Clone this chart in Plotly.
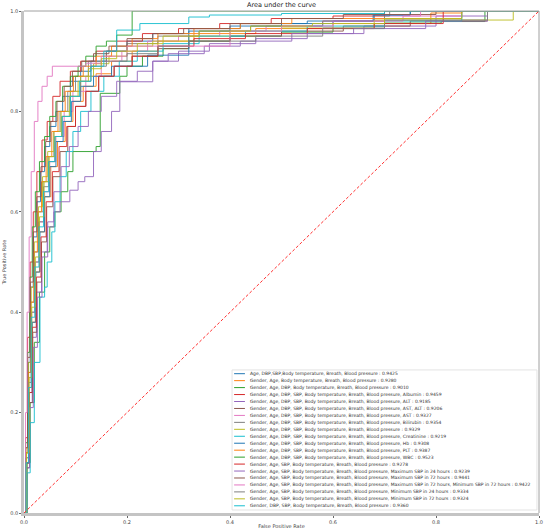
import plotly.graph_objects as go

# ROC curves, one per feature set (fpr / tpr step corners)
feature_sets = [
    "Age, DBP,SBP,Body temperature, Breath, Blood pressure",
    "Gender, Age, Body temperature, Breath, Blood pressure",
    "Gender, Age, DBP, Body temperature, Breath, Blood pressure",
    "Gender, Age, DBP, SBP, Body temperature, Breath, Blood pressure, Albumin",
    "Gender, Age, DBP, SBP, Body temperature, Breath, Blood pressure, ALT",
    "Gender, Age, DBP, SBP, Body temperature, Breath, Blood pressure, AST, ALT",
    "Gender, Age, DBP, SBP, Body temperature, Breath, Blood pressure, AST",
    "Gender, Age, DBP, SBP, Body temperature, Breath, Blood pressure, Bilirubin",
    "Gender, Age, DBP, SBP, Body temperature, Breath, Blood pressure",
    "Gender, Age, DBP, SBP, Body temperature, Breath, Blood pressure, Creatinine",
    "Gender, Age, DBP, SBP, Body temperature, Breath, Blood pressure, Hb",
    "Gender, Age, DBP, SBP, Body temperature, Breath, Blood pressure, PLT",
    "Gender, Age, DBP, SBP, Body temperature, Breath, Blood pressure, WBC",
    "Gender, Age, SBP, Body temperature, Breath, Blood pressure",
    "Gender, Age, SBP, Body temperature, Breath, Blood pressure, Maximum SBP in 24 hours",
    "Gender, Age, SBP, Body temperature, Breath, Blood pressure, Maximum SBP in 72 hours",
    "Gender, Age, SBP, Body temperature, Breath, Blood pressure, Maximum SBP in 72 hours, Minimum SBP in 72 hours",
    "Gender, Age, SBP, Body temperature, Breath, Blood pressure, Minimum SBP in 24 hours",
    "Gender, Age, SBP, Body temperature, Breath, Blood pressure, Minimum SBP in 72 hours",
    "Gender, DBP, SBP, Body temperature, Breath, Blood pressure",
]
auc_values = [0.9425, 0.9280, 0.9010, 0.9459, 0.9185, 0.9206, 0.9327, 0.9354, 0.9329, 0.9219,
              0.9308, 0.9387, 0.9523, 0.9278, 0.9239, 0.9441, 0.9422, 0.9334, 0.9324, 0.9360]

fpr_points = [
    [0, .004, .008, .012, .018, .025, .032, .04, .05, .062, .075, .09, .11, .13, .16, .2, .25, .32, .42, .55, .68, .75, 1],
    [0, .005, .01, .015, .022, .03, .04, .052, .065, .08, .095, .115, .14, .17, .21, .26, .33, .45, .6, .79, .85, 1],
    [0, .006, .012, .02, .03, .04, .05, .06, .072, .085, .095, .14, .148, .186, .2, .23, .27, .32, .4, .5, .6, .7, .81, .895, 1],
    [0, .003, .007, .012, .018, .025, .035, .045, .056, .07, .09, .11, .14, .18, .23, .3, .38, .48, .6, .7, 1],
    [0, .005, .01, .016, .024, .034, .045, .058, .07, .089, .105, .118, .135, .15, .17, .186, .25, .3, .36, .45, .55, .66, .8, .9, 1],
    [0, .005, .011, .017, .025, .034, .044, .056, .07, .085, .1, .12, .145, .175, .21, .26, .32, .4, .5, .62, .75, .9, 1],
    [0, .004, .009, .015, .022, .03, .04, .05, .062, .078, .095, .12, .15, .19, .24, .3, .38, .47, .58, .7, .85, 1],
    [0, .004, .008, .013, .02, .028, .037, .047, .058, .07, .085, .1, .125, .16, .2, .26, .34, .44, .58, .7, .71, 1],
    [0, .004, .009, .014, .02, .028, .036, .046, .058, .072, .09, .11, .135, .165, .2, .25, .32, .4, .5, .68, .95, 1],
    [0, .006, .012, .02, .031, .04, .045, .054, .06, .07, .082, .095, .11, .13, .155, .185, .22, .27, .34, .43, .55, .7, .85, 1],
    [0, .005, .01, .016, .023, .031, .04, .05, .062, .076, .092, .11, .135, .17, .24, .32, .4, .5, .6, .678, .75, 1],
    [0, .004, .008, .013, .019, .026, .034, .043, .054, .066, .08, .096, .115, .14, .17, .21, .26, .33, .42, .52, .79, .85, 1],
    [0, .003, .007, .011, .016, .022, .03, .04, .05, .062, .075, .09, .105, .12, .14, .16, .18, .21, 1],
    [0, .005, .01, .016, .024, .033, .043, .055, .068, .083, .1, .12, .145, .175, .21, .26, .33, .43, .55, .68, .814, 1],
    [0, .005, .011, .018, .026, .035, .046, .058, .072, .088, .105, .125, .15, .18, .22, .25, .28, .35, .42, .52, .64, .78, .9, 1],
    [0, .003, .007, .012, .018, .025, .033, .042, .052, .064, .078, .094, .112, .135, .165, .2, .25, .31, .4, .5, .62, .8, 1],
    [0, .003, .006, .01, .014, .02, .027, .035, .045, .055, .12, .15, .2, .4, .5, .6, .736, .77, 1],
    [0, .004, .009, .014, .021, .029, .038, .048, .06, .074, .09, .11, .13, .16, .2, .26, .32, .45, .58, .7, .9, 1],
    [0, .005, .01, .015, .022, .03, .039, .049, .06, .073, .088, .105, .125, .15, .18, .22, .27, .34, .44, .56, .7, .85, 1],
    [0, .004, .009, .014, .021, .029, .038, .048, .06, .074, .09, .108, .13, .155, .18, .225, .32, .36, .5, .7, 1],
]
tpr_points = [
    [0, .12, .3, .45, .55, .62, .68, .73, .77, .8, .83, .86, .88, .9, .92, .94, .955, .965, .975, .98, .992, 1, 1],
    [0, .1, .25, .38, .48, .56, .63, .69, .74, .78, .82, .85, .875, .9, .92, .94, .955, .965, .975, .985, 1, 1],
    [0, .1, .22, .34, .44, .52, .57, .6, .64, .68, .72, .73, .836, .87, .89, .91, .925, .94, .95, .958, .965, .976, .979, 1, 1],
    [0, .15, .35, .5, .6, .68, .743, .78, .83, .86, .88, .9, .92, .94, .955, .965, .975, .985, .99, 1, 1],
    [0, .1, .22, .35, .44, .52, .57, .6, .62, .643, .66, .67, .72, .76, .8, .859, .9, .92, .935, .945, .955, .97, .99, 1, 1],
    [0, .09, .22, .36, .46, .54, .61, .67, .72, .77, .81, .84, .87, .89, .91, .925, .94, .95, .96, .97, .98, 1, 1],
    [0, .11, .27, .4, .5, .58, .64, .7, .75, .8, .84, .87, .9, .92, .94, .95, .96, .97, .98, .99, 1, 1],
    [0, .12, .28, .42, .52, .6, .66, .71, .76, .8, .84, .87, .9, .92, .935, .95, .96, .97, .98, .99, 1, 1],
    [0, .13, .3, .45, .54, .61, .67, .72, .76, .8, .84, .87, .895, .91, .93, .94, .95, .96, .966, .982, 1, 1],
    [0, .08, .18, .3, .43, .45, .5, .56, .62, .67, .72, .76, .8, .84, .87, .9, .92, .935, .95, .96, .97, .98, 1, 1],
    [0, .1, .24, .38, .48, .56, .63, .69, .74, .78, .82, .85, .87, .89, .912, .96, .97, .975, .98, .992, 1, 1],
    [0, .12, .28, .42, .52, .6, .66, .71, .76, .8, .84, .87, .89, .91, .93, .945, .955, .965, .975, .985, .996, 1, 1],
    [0, .14, .32, .47, .57, .64, .7, .75, .79, .82, .85, .87, .89, .91, .93, .94, .952, 1, 1],
    [0, .1, .24, .37, .47, .55, .62, .68, .73, .77, .81, .84, .87, .89, .91, .93, .945, .955, .965, .975, 1, 1],
    [0, .09, .21, .33, .43, .51, .58, .64, .69, .73, .77, .8, .83, .86, .88, .9, .915, .93, .94, .955, .965, .98, 1, 1],
    [0, .13, .31, .46, .56, .63, .69, .74, .78, .82, .85, .88, .9, .915, .93, .945, .955, .965, .975, .985, .993, 1, 1],
    [0, .2, .4, .55, .68, .78, .82, .85, .87, .89, .896, .91, .93, .96, .97, .98, .99, 1, 1],
    [0, .11, .26, .4, .5, .58, .65, .7, .75, .79, .83, .86, .89, .9, .915, .93, .94, .95, .966, .982, 1, 1],
    [0, .12, .27, .41, .51, .59, .66, .71, .75, .79, .83, .86, .885, .905, .92, .935, .95, .96, .97, .975, .985, 1, 1],
    [0, .1, .25, .39, .49, .57, .64, .7, .75, .79, .83, .86, .89, .92, .962, .975, .988, .992, .995, 1, 1],
]

tab10 = ['#1f77b4', '#ff7f0e', '#2ca02c', '#d62728', '#9467bd',
         '#8c564b', '#e377c2', '#7f7f7f', '#bcbd22', '#17becf']
FONT = 'DejaVu Sans'

fig = go.Figure()

for i in range(len(feature_sets)):
    fig.add_trace(go.Scatter(
        x=fpr_points[i], y=tpr_points[i],
        mode='lines', line=dict(color=tab10[i % 10], width=1, shape='hv'),
        opacity=0.9,
        name=f'{feature_sets[i]} : {auc_values[i]:.4f}',
        showlegend=False
    ))

# chance line
fig.add_trace(go.Scatter(x=[0, 1], y=[0, 1], mode='lines',
                         line=dict(color='#ff3030', width=1, dash='3px,2px'), showlegend=False))

# plotly's legend rows are at least 19px tall, so the compact legend is drawn by hand
shapes = []
annotations = []
leg_top = 0.285
row = 0.01385
shapes.append(dict(type='rect', xref='paper', yref='paper', x0=0.404, x1=0.996,
                   y0=0.006, y1=leg_top, line=dict(color='#dddddd', width=0.8),
                   fillcolor='rgba(255,255,255,0.85)', layer='above'))
for i in range(len(feature_sets)):
    yy = leg_top - 0.0075 - i * row
    shapes.append(dict(type='line', xref='paper', yref='paper', x0=0.408, x1=0.429,
                       y0=yy, y1=yy, line=dict(color=tab10[i % 10], width=1), layer='above'))
    annotations.append(dict(xref='paper', yref='paper', x=0.434, y=yy, xanchor='left',
                            yanchor='middle', showarrow=False,
                            text=f'{feature_sets[i]} : {auc_values[i]:.4f}',
                            font=dict(family=FONT, size=4.5, color='#333333')))

# top / right frame lines (thin)
shapes.append(dict(type='line', xref='paper', yref='paper', x0=0, x1=1, y0=1, y1=1,
                   line=dict(color='#a0a0a0', width=1)))
shapes.append(dict(type='line', xref='paper', yref='paper', x0=1, x1=1, y0=0, y1=1,
                   line=dict(color='#a0a0a0', width=1)))

annotations.append(dict(xref='paper', yref='paper', x=0.5, y=1.0, yanchor='bottom', yshift=0,
                        showarrow=False, text='Area under the curve',
                        font=dict(family=FONT, size=6.5, color='#222222')))

fig.update_layout(
    width=550, height=532,
    margin=dict(l=24, r=11, t=11, b=19, autoexpand=False),
    paper_bgcolor='white', plot_bgcolor='white',
    font=dict(family=FONT, size=5, color='#444444'),
    shapes=shapes, annotations=annotations,
    xaxis=dict(range=[0, 1], tickvals=[0, 0.2, 0.4, 0.6, 0.8, 1.0], tickformat='.1f',
               automargin=False,
               showgrid=False, zeroline=False, showline=True, linecolor='#c4c4c4', linewidth=2.5,
               ticks='outside', ticklen=2, tickcolor='#666666', tickfont=dict(size=5),
               title=dict(text='False Positive Rate', font=dict(size=5), standoff=1)),
    yaxis=dict(range=[0, 1], tickvals=[0, 0.2, 0.4, 0.6, 0.8, 1.0], tickformat='.1f',
               automargin=False,
               showgrid=False, zeroline=False, showline=True, linecolor='#c4c4c4', linewidth=2.5,
               ticks='outside', ticklen=2, tickcolor='#666666', tickfont=dict(size=5),
               title=dict(text='True Positive Rate', font=dict(size=5), standoff=4)),
)

# drop the page's default body margin so the 550x532 figure sits at the window origin
fig.write_html("out.html", config={'displayModeBar': False},
               post_script="document.body.style.margin='0';")
